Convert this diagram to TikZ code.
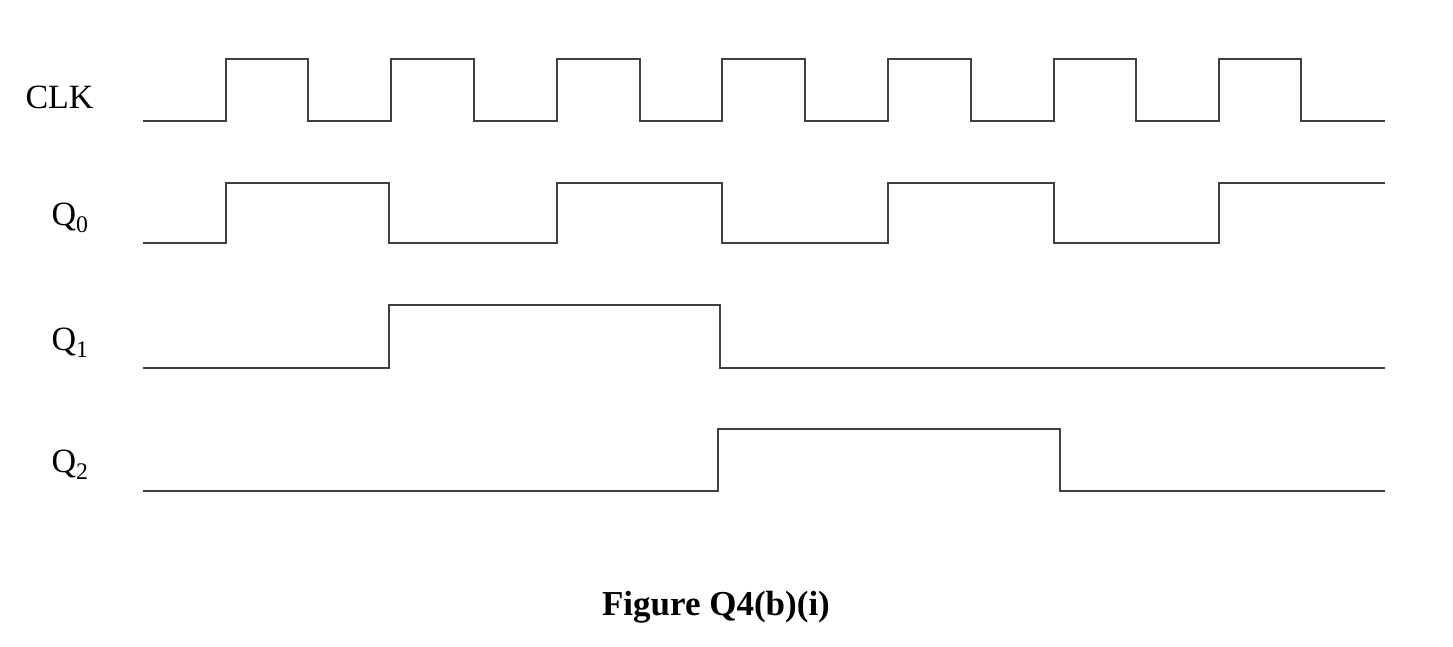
\documentclass[tikz,border=0pt]{standalone}
\usepackage{fontspec}
\setmainfont{Liberation Serif}
\begin{document}
\begin{tikzpicture}[x=1pt,y=-1pt,
  sig/.style={line width=2.5pt,draw=black!75,line join=miter},
  lab/.style={font=\fontsize{34}{36}\selectfont,anchor=west}]
\useasboundingbox (0,0) rectangle (1453,647);
\node[lab] (clk) at (22,97) {CLK};
\node[lab] (q0) at (48,218) {Q\textsubscript{0}};
\node[lab] (q1) at (48,343) {Q\textsubscript{1}};
\node[lab] (q2) at (48,465) {Q\textsubscript{2}};
\draw[sig] (143,121) -- (226,121) -- (226,59) -- (308,59) -- (308,121)
 -- (391,121) -- (391,59) -- (474,59) -- (474,121)
 -- (557,121) -- (557,59) -- (640,59) -- (640,121)
 -- (722,121) -- (722,59) -- (805,59) -- (805,121)
 -- (888,121) -- (888,59) -- (971,59) -- (971,121)
 -- (1054,121) -- (1054,59) -- (1136,59) -- (1136,121)
 -- (1219,121) -- (1219,59) -- (1301,59) -- (1301,121) -- (1385,121);
\draw[sig] (143,243) -- (226,243) -- (226,183) -- (389,183) -- (389,243)
 -- (557,243) -- (557,183) -- (722,183) -- (722,243)
 -- (888,243) -- (888,183) -- (1054,183) -- (1054,243)
 -- (1219,243) -- (1219,183) -- (1385,183);
\draw[sig] (143,368) -- (389,368) -- (389,305) -- (720,305) -- (720,368) -- (1385,368);
\draw[sig] (143,491) -- (718,491) -- (718,429) -- (1060,429) -- (1060,491) -- (1385,491);
\node[font=\bfseries\fontsize{35}{37}\selectfont] (cap) at (716,607) {Figure Q4(b)(i)};
\end{tikzpicture}
\end{document}
